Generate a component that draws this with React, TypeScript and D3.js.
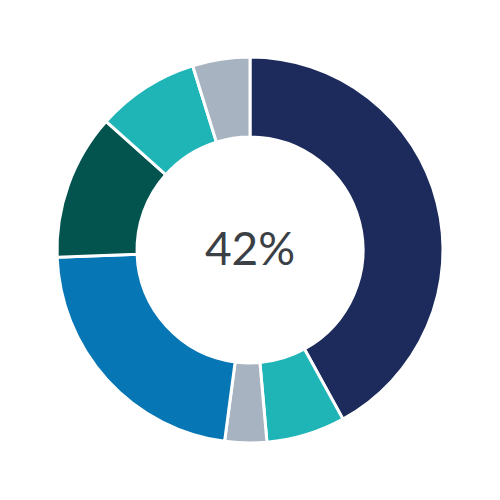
import React from "react";
import * as d3 from "d3";

const labels = ["A", "B", "C", "D", "E", "F", "G"];
const values = [42, 6.6, 3.5, 22.3, 12.2, 8.6, 4.8];
const colors = ["#1c2b5b", "#1fb4b6", "#a8b3c1", "#0676b4", "#03544f", "#1fb4b6", "#a8b3c1"];
const centerLabel = "42%";

export default function App() {
  const width = 500;
  const height = 500;
  const outer = 193;
  const inner = 113;

  const pie = d3.pie<number>().sort(null).value((d) => d);
  const arcs = pie(values);
  const arc = d3.arc<d3.PieArcDatum<number>>().innerRadius(inner).outerRadius(outer);

  return (
    <svg
      width={width}
      height={height}
      style={{ position: "absolute", left: 0, top: 0, background: "#fff" }}
    >
      <g transform={`translate(${width / 2},${height / 2})`}>
        {arcs.map((a, i) => (
          <path
            key={labels[i]}
            d={arc(a) || ""}
            fill={colors[i]}
            stroke="#fff"
            strokeWidth={3}
          />
        ))}
        <text
          y={15}
          textAnchor="middle"
          fontFamily="Lato, 'Open Sans', sans-serif"
          fontWeight={400}
          fontSize={46}
          fill="#3b3f46"
        >
          {centerLabel}
        </text>
      </g>
    </svg>
  );
}
